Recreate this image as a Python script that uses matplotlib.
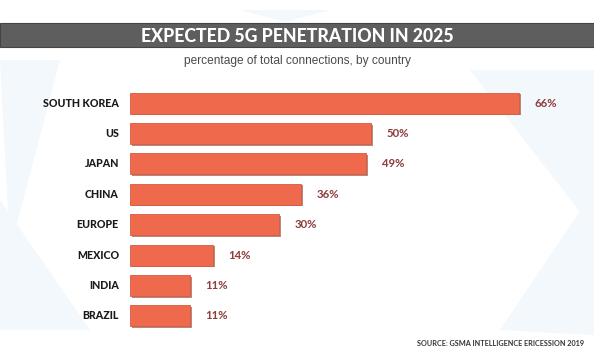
import matplotlib
matplotlib.use('Agg')
import matplotlib.pyplot as plt
import matplotlib.patheffects as pe
from matplotlib.patches import Polygon, Rectangle

countries = ["SOUTH KOREA", "US", "JAPAN", "CHINA", "EUROPE", "MEXICO", "INDIA", "BRAZIL"]
values = [66, 50, 49, 36, 30, 14, 11, 11]
# bar lengths as drawn in the source graphic (it is not to scale), in % units
drawn_len = [66, 40.9, 40.1, 29.0, 25.3, 14.1, 10.2, 10.2]

title = "EXPECTED 5G PENETRATION IN 2025"
subtitle = "percentage of total connections, by country"
source = "SOURCE: GSMA INTELLIGENCE ERICESSION 2019"

W, H = 594, 356
fig = plt.figure(figsize=(W / 100, H / 100), dpi=100)
fig.patch.set_facecolor('white')

# faint background triangles
tri_color = '#f3f8fc'
for pts in [[(0, 60), (60, 60), (10, 250)],
            [(0, 200), (90, 330), (0, 330)],
            [(470, 70), (594, 70), (594, 230)],
            [(500, 330), (594, 190), (594, 335)],
            [(240, 10), (330, 10), (285, 22)]]:
    fig.patches.append(Polygon([(x / W, 1 - y / H) for x, y in pts],
                               closed=True, transform=fig.transFigure,
                               facecolor=tri_color, edgecolor='none', zorder=0))

# title band
fig.patches.append(Rectangle((0, 1 - 47 / H), 1, 24 / H, transform=fig.transFigure,
                             facecolor='#5e5e5e', edgecolor='#444444', lw=0.8, zorder=1))
fig.text(0.5, 1 - 36 / H, title, ha='center', va='center', color='white',
         fontsize=12.7, fontweight='black', family='Lato', zorder=2)
fig.text(0.5, 1 - 61 / H, subtitle, ha='center', va='center', color='#4a4a4a',
         fontsize=8.6, family='Liberation Sans')
fig.text(584 / W, 1 - 343 / H, source, ha='right', va='center', color='#333333',
         fontsize=5.2, fontweight='bold', family='Lato')

# bar axes
px_per_unit = 389 / 66
ax = fig.add_axes([130 / W, (356 - 331.2) / H, (W - 130) / W, 243.4 / H])
ax.set_zorder(3)
ax.set_xlim(0, (W - 130) / px_per_unit)
ax.set_ylim(len(countries) - 0.5, -0.5)
ax.axis('off')

ypos = list(range(len(countries)))
bars = ax.barh(ypos, drawn_len, height=0.69, color='#ef6a4d', edgecolor='#d65a40', lw=0.6)
for b in bars:
    b.set_path_effects([pe.SimplePatchShadow(offset=(1.2, -1.2), shadow_rgbFace='#8a3a2a', alpha=0.6),
                        pe.Normal()])

for y, c, v, L in zip(ypos, countries, values, drawn_len):
    ax.annotate(c, xy=(0, y), xytext=(-8, 0), textcoords='offset points',
                ha='right', va='center', fontsize=7.7, fontweight='black',
                family='Lato', color='#1a1a1a', annotation_clip=False)
    ax.annotate(f"{v}%", xy=(L, y), xytext=(11, 0), textcoords='offset points',
                ha='left', va='center', fontsize=8.2, fontweight='bold',
                family='Lato', color='#8e3b3b', annotation_clip=False)

fig.savefig('out.png', dpi=100)
